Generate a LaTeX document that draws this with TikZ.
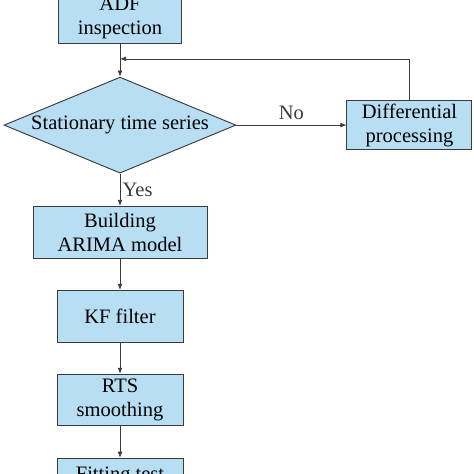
\documentclass[tikz,border=0pt]{standalone}
\usepackage{fontspec}
\setmainfont{Liberation Serif}
\usepackage{tikz}
\usetikzlibrary{shapes.geometric, arrows.meta, positioning, calc}
\definecolor{boxBlue}{HTML}{B8DEF3}
\definecolor{lineGray}{HTML}{3A3A3A}

\begin{document}
\begin{tikzpicture}[
    node distance=0.94cm,
    box/.style={rectangle, fill=boxBlue, draw=lineGray, line width=0.8pt, minimum width=3.78cm,
                minimum height=1.55cm, inner sep=1pt, text centered, align=center,
                font=\fontsize{17.5}{20.5}\selectfont},
    decision/.style={diamond, fill=boxBlue, draw=lineGray, line width=0.8pt, aspect=2.42,
                minimum width=6.96cm, minimum height=2.88cm, inner sep=0pt,
                font=\fontsize{17.5}{20.5}\selectfont},
    arrow/.style={-{Latex[length=1.8mm, width=1.4mm]}, line width=0.6pt, color=lineGray},
    lbl/.style={font=\fontsize{17.5}{20.5}\selectfont, inner sep=2pt},
]
\path[use as bounding box, clip] (0,0) rectangle (14.22,-14.22);

% Main column
\node[box, minimum width=3.7cm] (adf) at (3.6,-0.54) {ADF\\inspection};
\node[decision, below=0.97cm of adf] (stationary) {Stationary time series};
\node[box, minimum width=5.22cm, below=0.97cm of stationary] (arima) {Building\\ARIMA model};
\node[box, below=of arima] (kf) {KF filter};
\node[box, below=of kf] (rts) {RTS\\smoothing};
\node[box, text height=0.62cm, text depth=0.9cm, below=of rts] (fitting) {Fitting test};

% Side branch
\node[box, minimum width=3.75cm, minimum height=1.48cm, right=3.3cm of stationary] (diff) {Differential\\processing};
\coordinate (merge) at ($(adf.south)!0.45!(stationary.north)$);

% Arrows
\draw[arrow] (adf) -- (stationary);
\draw[arrow] (stationary) -- node[lbl, above, yshift=2pt] {No} (diff);
\draw[arrow] (diff.north) |- (merge);
\draw[arrow] (stationary) -- node[lbl, right] {Yes} (arima);
\draw[arrow] (arima) -- (kf);
\draw[arrow] (kf) -- (rts);
\draw[arrow] (rts) -- (fitting);

\end{tikzpicture}
\end{document}
